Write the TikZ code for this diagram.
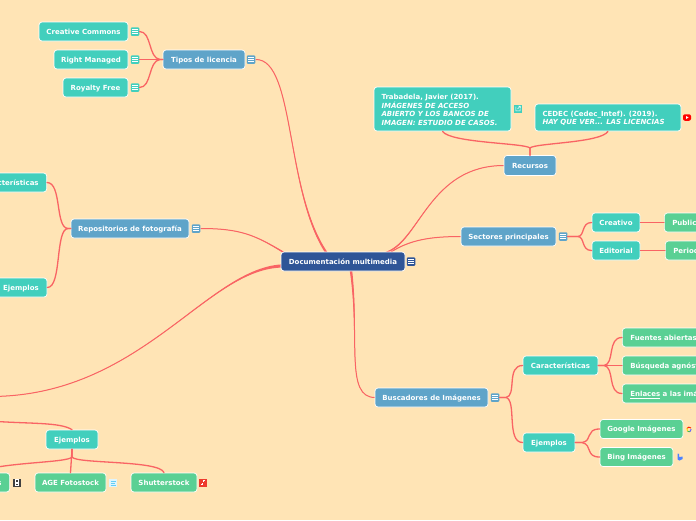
\documentclass[tikz,border=0pt]{standalone}
\usepackage{fontspec}
\setmainfont{DejaVu Sans}
\definecolor{bgc}{HTML}{FFE4B5}
\definecolor{teal}{HTML}{42CFBD}
\definecolor{grn}{HTML}{5AD094}
\definecolor{blu}{HTML}{5FA4C9}
\definecolor{navy}{HTML}{2F5597}
\definecolor{lin}{HTML}{F96464}
\definecolor{ssred}{HTML}{EE3A2E}
\tikzset{
 x=1pt,y=-1pt,
 box/.style={draw=white,line width=.7pt,rounded corners=3pt,inner sep=0pt,align=center,text=white,
   font=\fontsize{7}{9}\selectfont\bfseries,minimum height=19pt,text height=6.2pt,text depth=.4pt},
 tealbox/.style={box,fill=teal},
 grnbox/.style={box,fill=grn},
 blubox/.style={box,fill=blu},
 navybox/.style={box,fill=navy},
 offleft/.style={anchor=east,inner xsep=8pt},
 offright/.style={anchor=west,inner xsep=8pt},
 conn/.style={draw=lin,line width=1.3pt,line cap=round},
 fine conn/.style={draw=lin,line width=1pt,line cap=round},
 icon/.style={rounded corners=1pt,minimum width=8.5pt,minimum height=8.5pt,inner sep=0pt,fill=#1},
 sqicon/.style={icon=#1,minimum width=8pt,minimum height=8pt,rounded corners=0pt},
}
\newcommand{\noteicon}[4]{%
 \node[icon=#4] (#1) at (#2,#3) {};
 \draw[white,line width=.55pt] (#2-2.6,#3-2) -- (#2+2.6,#3-2) (#2-2.6,#3) -- (#2+2.6,#3) (#2-2.6,#3+2) -- (#2+2.6,#3+2);
}
% tapered connector: start name, control 1, control 2, end, half width x, half width y
\newcommand{\taper}[6]{%
 \draw[fine conn] (#1) .. controls #2 and #3 .. #4;
 \fill[lin] ([xshift=#5,yshift=#6]#1) .. controls #2 and #3 .. #4 .. controls #3 and #2 .. ([xshift=-#5,yshift=-#6]#1) -- cycle;
}
\begin{document}
\begin{tikzpicture}
\useasboundingbox[fill=bgc] (0,0) rectangle (696,520);

\coordinate (freeA) at (-10,396.5);
\coordinate (freeB) at (-10,421);
\coordinate (docTL) at (326,252);
\coordinate (docTLb) at (283,252);
\coordinate (docTR) at (387,252);
\coordinate (docTRb) at (391,252);
\coordinate (docB) at (351,271);
\coordinate (docL) at (281,266);

% connectors into the central node go first, so that it covers their ends
\taper{docTL}{(285,190)}{(295,59.5)}{(256,59.5)}{1.3pt}{0pt}
\taper{docTLb}{(255,235)}{(240,228.5)}{(201,228.5)}{0.5pt}{0.5pt}
\taper{docTR}{(420,240)}{(430,165.5)}{(504,165.5)}{1.3pt}{0pt}
\taper{docTRb}{(410,240)}{(430,236.5)}{(461,236.5)}{0.5pt}{0.5pt}
\taper{docB}{(360,340)}{(345,397.5)}{(375,397.5)}{1.2pt}{0pt}
\taper{docL}{(205,270)}{(140,396.5)}{(freeA)}{0pt}{1.6pt}

% nodes
\node[navybox,minimum width=124pt] (doc) at (343,261.5) {Documentación multimedia};
\noteicon{docn}{411}{261.5}{navy}

\node[blubox,minimum width=82pt] (tipos) at (204,59.5) {Tipos de licencia};
\noteicon{tiposn}{251}{59.5}{blu}
\node[tealbox,minimum width=89pt] (cc) at (83.5,31.5) {Creative Commons};
\noteicon{ccn}{135}{31.5}{teal}
\node[tealbox,minimum width=74pt] (rm) at (91,59.5) {Right Managed};
\noteicon{rmn}{135}{59.5}{teal}
\node[tealbox,minimum width=65pt] (rf) at (95.5,87.5) {Royalty Free};
\noteicon{rfn}{135}{87.5}{teal}

\node[blubox,minimum width=118pt] (repo) at (130,228.5) {Repositorios de fotografía};
\noteicon{repon}{196}{228.5}{blu}
\node[tealbox,offleft] (car1) at (47,182.5) {Características};
\node[tealbox,minimum width=52pt] (ej1) at (21,287.5) {Ejemplos};

\node[blubox,minimum width=52pt,minimum height=20pt] (rec) at (530,165.5) {Recursos};
\node[tealbox,minimum width=137pt,minimum height=44pt,align=left,text height=,text depth=] (trab) at (442.5,109) {%
 \begin{minipage}{122pt}\vspace*{1.6pt}\fontsize{7}{8.7}\selectfont Trabadela, Javier (2017).\\\itshape IMÁGENES DE ACCESO\\ABIERTO Y LOS BANCOS DE\\IMAGEN: ESTUDIO DE CASOS.\end{minipage}};
\node[tealbox,minimum width=146pt,minimum height=27pt,align=left,text height=,text depth=] (cedec) at (608,117.5) {%
 \begin{minipage}{131pt}\vspace*{1.6pt}\fontsize{7}{8.7}\selectfont CEDEC (Cedec\_Intef). (2019).\\\itshape HAY QUE VER... LAS LICENCIAS\end{minipage}};
\node[sqicon=teal] (ext) at (518,108.5) {};
\draw[white,line width=.5pt] (515.8,106.5) -- (515.8,110.8) -- (520.2,110.8) -- (520.2,108.5) (517.5,109) -- (520.4,106.2) (518.4,106.2) -- (520.4,106.2) -- (520.4,108);
\node[icon=red,minimum width=8pt,minimum height=6.5pt,rounded corners=2pt] (yt) at (687,117.5) {};
\fill[white] (686,116) -- (688.5,117.5) -- (686,119) -- cycle;

\node[blubox,minimum width=95pt] (sect) at (508.5,236.5) {Sectores principales};
\noteicon{sectn}{563}{236.5}{blu}
\node[tealbox,minimum width=48pt] (crea) at (616,222.5) {Creativo};
\node[tealbox,minimum width=48pt] (edit) at (616,250.5) {Editorial};
\node[grnbox,offright] (pub) at (664,222.5) {Publicidad};
\node[grnbox,offright] (per) at (665,250.5) {Periodismo};

\node[blubox,minimum width=113pt] (busc) at (431.5,397.5) {Buscadores de Imágenes};
\noteicon{buscn}{495}{397.5}{blu}
\node[tealbox,minimum width=75pt] (car2) at (560.5,365.5) {Características};
\node[tealbox,minimum width=52pt] (ej2) at (549,442.5) {Ejemplos};
\node[grnbox,offright] (fue) at (622,337.5) {Fuentes abiertas};
\node[grnbox,offright] (bus) at (622,365.5) {Búsqueda agnóstica};
\node[grnbox,offright] (enl) at (622,393.5) {\underline{Enlaces} a las imágenes};
\node[grnbox,minimum width=83pt] (goo) at (641.5,429) {Google Imágenes};
\node[grnbox,minimum width=73pt] (bing) at (636.5,457) {Bing Imágenes};
% google icon
\draw[line width=1pt,red!75!orange] (691,428) arc (-40:-150:2.4);
\draw[line width=1pt,yellow!80!orange] (686.9,428) arc (-150:-230:2.4);
\draw[line width=1pt,green!60!black!70!white] (687.5,431.4) arc (-230:-300:2.4);
\draw[line width=1pt,blue!60!white] (690,431.6) arc (-300:-370:2.4);
% bing icon
\fill[blue!70!cyan!70!white] (677.6,453.5) -- (679.2,454) -- (679.2,457) -- (682.5,456.6) -- (682.5,459) -- (679.5,460.6) -- (677.6,459.5) -- cycle;

\node[tealbox,minimum width=52pt] (ej3) at (72,439.5) {Ejemplos};
\node[grnbox,offleft] (gett) at (10,482.5) {Getty Images};
\node[grnbox,minimum width=71pt] (age) at (70.5,482.5) {AGE Fotostock};
\node[grnbox,minimum width=66pt] (shu) at (164,482.5) {Shutterstock};
\node[sqicon=black!75] (gic) at (17,482.5) {};
\draw[white,line width=.5pt] (15.5,479.5) rectangle (18.5,482) (15.5,483) rectangle (18.5,485.5);
\node[sqicon=cyan!12] (aic) at (113,482.5) {};
\draw[cyan!60,line width=.7pt] (110.5,481) -- (115.5,481) (111,483) -- (115,483) (110.5,485) -- (115.5,485);
\node[sqicon=ssred] (sic) at (203,482.5) {};
\draw[white,line width=.8pt] (200.8,484.5) -- (202.5,484.5) -- (202.5,483) (205.2,480.5) -- (203.5,480.5) -- (203.5,482);

% connectors
\draw[conn] (freeB) .. controls (30,424) and (60,422) .. (ej3.north);

\draw[conn] (tipos.west) -- (160,59.5) .. controls (148,58) and (152,31.5) .. (ccn.east);
\draw[conn] (tipos.west) -- (rmn.east);
\draw[conn] (tipos.west) -- (160,59.5) .. controls (148,61) and (152,87.5) .. (rfn.east);

\draw[conn] (repo.west) -- (68,228.5) .. controls (55,228) and (62,182.5) .. (car1.east);
\draw[conn] (repo.west) -- (68,228.5) .. controls (55,229) and (62,287.5) .. (ej1.east);

\draw[conn] (rec.north) -- (530,148) .. controls (525,143) and (450,143) .. (trab.south);
\draw[conn] (rec.north) -- (530,148) .. controls (535,143) and (601,143) .. (cedec.south);

\draw[conn] (sectn.east) -- (578,236.5) .. controls (585,236) and (581,222.5) .. (crea.west);
\draw[conn] (sectn.east) -- (578,236.5) .. controls (585,237) and (581,250.5) .. (edit.west);
\draw[conn] (crea.east) -- (pub.west);
\draw[conn] (edit.east) -- (per.west);

\draw[conn] (buscn.east) -- (506,397.5) .. controls (517,396) and (506,365.5) .. (car2.west);
\draw[conn] (buscn.east) -- (506,397.5) .. controls (517,400) and (506,442.5) .. (ej2.west);
\draw[conn] (car2.east) -- (bus.west);
\draw[conn] (car2.east) -- (604,365.5) .. controls (615,364) and (607,337.5) .. (fue.west);
\draw[conn] (car2.east) -- (604,365.5) .. controls (615,367) and (607,393.5) .. (enl.west);
\draw[conn] (ej2.east) -- (582,442.5) .. controls (593,441) and (585,429) .. (goo.west);
\draw[conn] (ej2.east) -- (582,442.5) .. controls (593,445) and (585,457) .. (bing.west);

\draw[conn] (ej3.south) -- (72,457) .. controls (68,463) and (0,462) .. (gett.north);
\draw[conn] (ej3.south) -- (age.north);
\draw[conn] (ej3.south) -- (72,457) .. controls (76,464) and (160,460) .. (shu.north);
\end{tikzpicture}
\end{document}
